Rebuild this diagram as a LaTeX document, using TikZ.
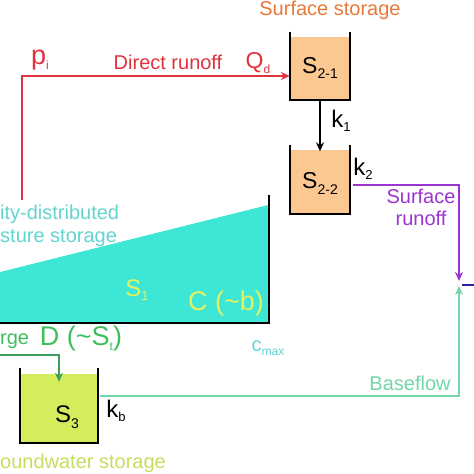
\documentclass[tikz,border=0pt]{standalone}
\usepackage{fontspec}
\setmainfont{Liberation Sans}
\usetikzlibrary{arrows.meta}
\definecolor{cred}{HTML}{E0323C}
\definecolor{corange}{HTML}{E8793A}
\definecolor{cpeach}{HTML}{FBC891}
\definecolor{cpurple}{HTML}{9B35CF}
\definecolor{cblue}{HTML}{2228A0}
\definecolor{cbase}{HTML}{72D6AA}
\definecolor{cturq}{HTML}{3EE6D6}
\definecolor{cturqtxt}{HTML}{62D4D2}
\definecolor{cyell}{HTML}{E4F25E}
\definecolor{cgreen}{HTML}{3FBF5C}
\definecolor{cgarrow}{HTML}{3C9E5E}
\definecolor{clime}{HTML}{D5EC5C}
\definecolor{cgw}{HTML}{C4DE5E}
\newcommand\sbx[1]{\raisebox{-0.45ex}{\fontsize{14}{14}\selectfont #1}}
\newcommand\sby[1]{\raisebox{-0.35ex}{\fontsize{13}{13}\selectfont #1}}
\newcommand\sbz[1]{\raisebox{-0.35ex}{\fontsize{12}{12}\selectfont #1}}
\tikzset{
  tank/.style={minimum width=60pt,minimum height=68pt,inner sep=0pt},
  wall/.style={line width=1.6pt,black},
  lbl/.style={inner sep=0pt,font=\fontsize{20}{20}\selectfont},
  big/.style={inner sep=0pt,font=\fontsize{23}{23}\selectfont},
  kk/.style={inner sep=0pt,font=\fontsize{24}{24}\selectfont},
  huge/.style={inner sep=0pt,font=\fontsize{27}{27}\selectfont},
  flow/.style={line width=1.5pt,-{Stealth[length=9pt,width=8pt]}}
}
\begin{document}
\begin{tikzpicture}[x=1pt,y=-1pt]
\useasboundingbox (0,0) rectangle (474,474);
% moisture storage
\fill[cturq] (0,272) -- (268,205) -- (268,323) -- (0,323) -- cycle;
\draw[wall] (269,195) -- (269,323) -- (0,323);
\node[lbl,text=cturqtxt,anchor=west] (md) at (0,214) {ity-distributed};
\node[lbl,text=cturqtxt,anchor=west] (ms) at (0,238) {sture storage};
\node[kk,text=cyell] (s1) at (137,290) {S\sby{1}};
\node[huge,text=cyell] (cb) at (226,304) {C (\textasciitilde b)};
\node[lbl,text=cturqtxt] (cmax) at (268,348) {c\sbz{max}};
% tanks
\node[tank] (s21) at (320,66) {};
\node[tank] (s22) at (320,179.5) {};
\node[minimum width=78pt,minimum height=75pt,inner sep=0pt] (s3) at (59,405.5) {};
\fill[cpeach] (s21.south west) rectangle ([yshift=-5pt]s21.north east);
\fill[cpeach] (s22.south west) rectangle ([yshift=-5pt]s22.north east);
\fill[clime] (s3.south west) rectangle ([yshift=-6pt]s3.north east);
\draw[wall] (s21.north west) -- (s21.south west) -- (s21.south east) -- (s21.north east);
\draw[wall] (s22.north west) -- (s22.south west) -- (s22.south east) -- (s22.north east);
\draw[wall] (s3.north west) -- (s3.south west) -- (s3.south east) -- (s3.north east);
\node[big] (t21) at ([yshift=-2pt]s21.center) {S\sbx{2-1}};
\node[big] (t22) at ([yshift=-4pt]s22.center) {S\sbx{2-2}};
\node[kk] (t3) at ([xshift=8pt,yshift=-12pt]s3.center) {S\sbx{3}};
\node[lbl,text=corange] (ss) at (330,10) {Surface storage};
% direct runoff
\coordinate (pin) at (22,200);
\draw[cred,flow] (pin) |- ([yshift=-10pt]s21.west);
\node[huge,text=cred] (pi) at (40,60) {p\sbz{i}};
\node[lbl,text=cred] (dr) at (168,62) {Direct runoff};
\node[big,text=cred] (qd) at (258,63) {Q\sbz{d}};
% k1
\draw[flow,black] (s21.south) -- ([yshift=-6pt]s22.north);
\node[kk] (k1) at (341,121) {k\sby{1}};
\node[kk] (k2) at (363,169) {k\sby{2}};
% junction
\coordinate (junc) at (459,281);
\draw[cpurple,flow] ([xshift=3pt,yshift=-5.5pt]s22.east) -| (junc);
\node[lbl,text=cpurple,align=center] (sr) at (421,207) {Surface\\[2pt]runoff};
\draw[cblue,line width=1.5pt] ([xshift=3pt,yshift=-4pt]junc) -- ++(15,0);
% baseflow
\draw[cbase,flow] ([xshift=2pt,yshift=9.5pt]s3.east) -| ([yshift=-5pt]junc);
\node[lbl,text=cbase] (bf) at (410,383) {Baseflow};
\node[kk] (kb) at (116,411) {k\sby{b}};
% recharge
\coordinate (rch) at (0,355);
\draw[cgarrow,flow] (rch) -| ([yshift=-14pt]s3.north);
\node[lbl,text=cgreen,anchor=west] (rg) at (0,341) {rge};
\node[huge,text=cgreen] (dst) at (81,339) {D (\textasciitilde S\sbz{t})};
\node[lbl,text=cgw,anchor=west] (gw) at (0,463) {oundwater storage};
\end{tikzpicture}
\end{document}
